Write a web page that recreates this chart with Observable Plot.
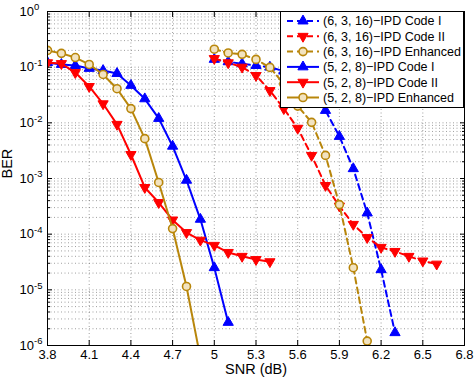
<!DOCTYPE html>
<html><head><meta charset="utf-8">
<script src="https://cdn.jsdelivr.net/npm/d3@7"></script>
<script src="https://cdn.jsdelivr.net/npm/@observablehq/plot@0.6"></script>
<style>body{margin:0;background:#fff;font-family:"Liberation Sans",Arial,sans-serif}</style>
</head><body><div id="chart"></div>
<script>
// ---- data ----
const snr528Code1 = [3.8,3.9,4.0,4.1,4.2,4.3,4.4,4.5,4.6,4.7,4.8,4.9,5.0,5.1];
const ber528Code1 = [0.121,0.112,0.107,0.095,0.087,0.077,0.047,0.027,0.012,0.0038,0.00093,1.85e-4,2.5e-5,2.6e-6];
const snr528Code2 = [3.8,3.9,4.0,4.1,4.2,4.3,4.4,4.5,4.6,4.7,4.8,4.9,5.0,5.1,5.2,5.3,5.4];
const ber528Code2 = [0.12,0.116,0.08,0.045,0.022,0.0094,0.0027,6.9e-4,3.7e-4,1.8e-4,1.07e-4,7.8e-5,6.3e-5,4.7e-5,4.0e-5,3.5e-5,3.2e-5];
const snr528Enh = [3.8,3.9,4.0,4.1,4.2,4.3,4.4,4.5,4.6,4.7,4.8,4.9];
const ber528Enh = [0.2,0.177,0.149,0.112,0.074,0.041,0.018,0.0052,8.5e-4,1.26e-4,1.15e-5,6e-7];
const snr6316Code1 = [5.0,5.1,5.2,5.3,5.4,5.5,5.6,5.7,5.8,5.9,6.0,6.1,6.2,6.3];
const ber6316Code1 = [0.138,0.125,0.115,0.107,0.1,0.085,0.065,0.038,0.0167,0.0057,0.0015,2.4e-4,2.3e-5,1.7e-6];
const snr6316Code2 = [5.0,5.1,5.2,5.3,5.4,5.5,5.6,5.7,5.8,5.9,6.0,6.1,6.2,6.3,6.4,6.5,6.6];
const ber6316Code2 = [0.143,0.12,0.1,0.071,0.038,0.018,0.008,0.0026,7.5e-4,3.2e-4,1.5e-4,8.7e-5,5.8e-5,4.9e-5,4.0e-5,3.3e-5,2.9e-5];
const snr6316Enh = [5.0,5.1,5.2,5.3,5.4,5.5,5.6,5.7,5.8,5.9,6.0,6.1];
const ber6316Enh = [0.21,0.18,0.17,0.138,0.099,0.05,0.02,0.0102,0.0026,3.4e-4,2.5e-5,1.2e-6];

const seriesNames = ["(6, 3, 16)\u2212IPD Code I","(6, 3, 16)\u2212IPD Code II","(6, 3, 16)\u2212IPD Enhanced",
                     "(5, 2, 8)\u2212IPD Code I","(5, 2, 8)\u2212IPD Code II","(5, 2, 8)\u2212IPD Enhanced"];
const xTicks = [3.8,4.1,4.4,4.7,5.0,5.3,5.6,5.9,6.2,6.5,6.8];
const yMajor = [1e-6,1e-5,1e-4,1e-3,1e-2,1e-1,1];
const yMinor = [-6,-5,-4,-3,-2,-1].flatMap(e => [2,3,4,5,6,7,8,9].map(m => m * Math.pow(10, e)));

// ---- styles ----
const BLUE = "#0000ff", RED = "#ff0000", GOLD = "#b8860b";
const series = [
  {name: seriesNames[0], snr: snr6316Code1, ber: ber6316Code1, color: BLUE, dash: true, kind: "up"},
  {name: seriesNames[1], snr: snr6316Code2, ber: ber6316Code2, color: RED, dash: true, kind: "down"},
  {name: seriesNames[2], snr: snr6316Enh, ber: ber6316Enh, color: GOLD, dash: true, kind: "circle"},
  {name: seriesNames[3], snr: snr528Code1, ber: ber528Code1, color: BLUE, dash: false, kind: "up"},
  {name: seriesNames[4], snr: snr528Code2, ber: ber528Code2, color: RED, dash: false, kind: "down"},
  {name: seriesNames[5], snr: snr528Enh, ber: ber528Enh, color: GOLD, dash: false, kind: "circle"}
];
const DASH = "6,4";

const dataMarks = series.flatMap(s => {
  const rows = s.snr.map((x, i) => ({snr: x, ber: s.ber[i]}));
  const dotOpts = s.kind === "circle"
    ? {symbol: "circle", r: 4, fill: "#f2e3c0", stroke: s.color, strokeWidth: 1.6}
    : {symbol: "triangle", r: 3.8, fill: s.color, stroke: s.color, strokeWidth: 1, rotate: s.kind === "down" ? 180 : 0};
  return [
    Plot.line(rows, {x: "snr", y: "ber", stroke: s.color, strokeWidth: 2, strokeDasharray: s.dash ? DASH : null, clip: true}),
    Plot.dot(rows, {x: "snr", y: "ber", clip: true, ...dotOpts})
  ];
});

const gridStyle = {stroke: "#777", strokeOpacity: 1, strokeWidth: 0.7, strokeDasharray: "1,2.5"};

const chart = Plot.plot({
  width: 474, height: 379,
  marginLeft: 47, marginRight: 10, marginTop: 11, marginBottom: 34,
  style: {fontFamily: "'Liberation Sans', Arial, sans-serif", fontSize: "13px", background: "#fff", color: "#000"},
  x: {domain: [3.8, 6.8]},
  y: {type: "log", domain: [1e-6, 1]},
  marks: [
    Plot.gridX(xTicks, gridStyle),
    Plot.gridY(yMajor.concat(yMinor), gridStyle),
    ...dataMarks,
    Plot.frame({stroke: "#000", strokeWidth: 1}),
    Plot.axisX(xTicks, {anchor: "bottom", tickSize: 0, tickPadding: 4, fontSize: 13, label: null,
      tickFormat: d => String(+d.toFixed(1))}),
    Plot.axisX(xTicks, {anchor: "bottom", tickSize: 5, fill: "none", dy: -5, label: null}),
    Plot.axisX(xTicks, {anchor: "top", tickSize: 5, fill: "none", dy: 5, label: null}),
    Plot.axisY(yMajor, {anchor: "left", tickSize: 0, tickPadding: 0, textAnchor: "start", dx: -28, fontSize: 13, label: null,
      tickFormat: d => String(Math.round(Math.log10(d)))}),
    Plot.axisY(yMajor, {anchor: "left", tickSize: 5, fill: "none", dx: 5, label: null}),
    Plot.axisY(yMajor, {anchor: "right", tickSize: 5, fill: "none", dx: -5, label: null}),
    Plot.axisY(yMinor, {anchor: "left", tickSize: 3, fill: "none", dx: 3, label: null}),
    Plot.axisY(yMinor, {anchor: "right", tickSize: 3, fill: "none", dx: -3, label: null}),
    Plot.text(["SNR (dB)"], {text: d => d, frameAnchor: "bottom", lineAnchor: "middle", dy: 23.5, fontSize: 14.5}),
    Plot.text(["BER"], {text: d => d, frameAnchor: "left", lineAnchor: "middle", rotate: -90, dx: -40, fontSize: 14.5})
  ]
});
document.getElementById("chart").appendChild(chart);

const svg = d3.select(chart);
svg.selectAll('g[aria-label="x-axis tick label"], g[aria-label="y-axis tick label"]').attr("font-size", "13px");

// superscript exponents on the y tick labels
svg.selectAll('g[aria-label="y-axis tick label"] text').each(function () {
  const t = d3.select(this);
  const e = t.text().replace("\u2212", "-");
  t.text(null);
  t.append("tspan").text("10");
  t.append("tspan").attr("dy", "-0.55em").attr("font-size", "9.5px").text(e);
});

// legend box
const lg = svg.append("g").attr("font-size", "12.5px").attr("text-anchor", "start");
lg.append("rect").attr("x", 280.5).attr("y", 11.5).attr("width", 183).attr("height", 96)
  .attr("fill", "#fff").attr("stroke", "#000").attr("stroke-width", 1);
series.forEach((s, i) => {
  const y = 21 + i * 15.3;
  lg.append("line").attr("x1", 287).attr("x2", 319).attr("y1", y).attr("y2", y)
    .attr("stroke", s.color).attr("stroke-width", 2).attr("stroke-dasharray", s.dash ? DASH : null);
  if (s.kind === "circle") {
    lg.append("circle").attr("cx", 303).attr("cy", y).attr("r", 4)
      .attr("fill", "#f2e3c0").attr("stroke", s.color).attr("stroke-width", 1.6);
  } else {
    lg.append("path").attr("d", d3.symbol(d3.symbolTriangle, Math.PI * 3.8 * 3.8)())
      .attr("transform", `translate(303,${y}) rotate(${s.kind === "down" ? 180 : 0})`)
      .attr("fill", s.color).attr("stroke", s.color);
  }
  lg.append("text").attr("x", 323).attr("y", y).attr("dy", "0.35em").attr("fill", "#000")
    .attr("text-anchor", "start").attr("font-size", "12.5px").text(s.name);
});
</script></body></html>
